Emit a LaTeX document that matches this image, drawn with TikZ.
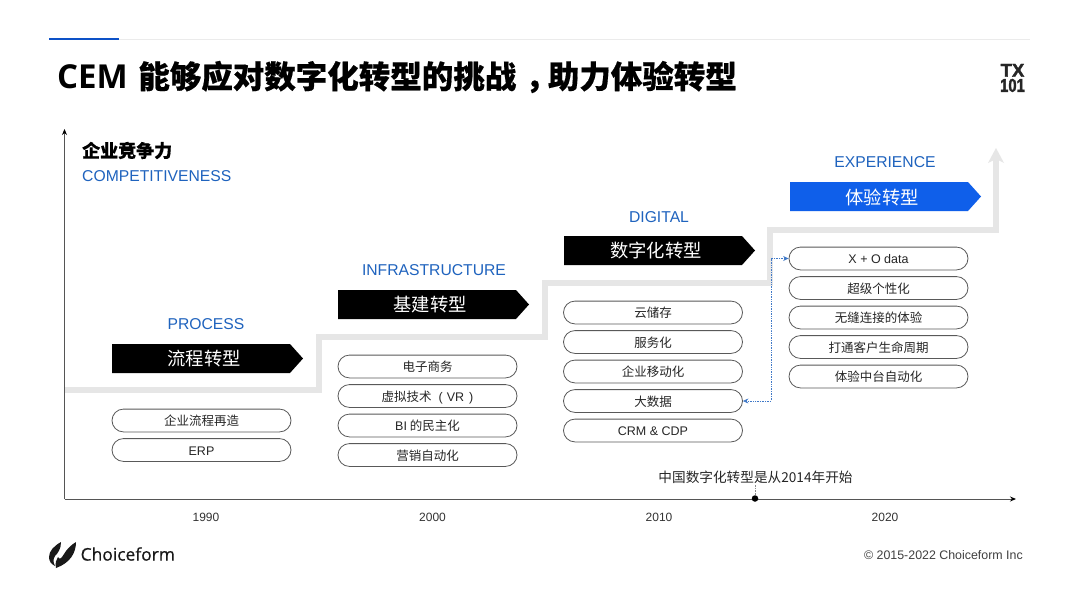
\documentclass[tikz,border=0pt]{standalone}
\usepackage{fontspec}
\setmainfont{Liberation Sans}
\newfontfamily\cjk[BoldFeatures={FakeBold=0.5}]{Noto Sans CJK SC}
\newfontfamily\opensans[FakeBold=0.5]{Open Sans}
\newfontfamily\opensanshead{Open Sans}
\newfontfamily\heavyA[FakeBold=2]{Liberation Sans Bold}
\usetikzlibrary{arrows.meta}
\definecolor{cfblue}{HTML}{0F5FEA}
\definecolor{lblblue}{HTML}{1F63BE}
\definecolor{stair}{HTML}{E6E6E6}
\definecolor{axisgray}{HTML}{555555}
\newcommand{\fs}[1]{\fontsize{#1}{#1}\selectfont}
\tikzset{
  x=1pt,y=-1pt,
  pill/.style={draw=black!65,line width=.8pt,rounded corners=11.4pt,minimum width=179pt,minimum height=22.8pt,inner sep=0pt,font=\fs{12.5}\cjk,text=black!85,fill=white,text height=11pt,text depth=0.1pt},
  pilllat/.style={pill,font=\fs{12.5}\rmfamily,text height=10pt,text depth=0pt},
  ban/.style={text=white,font=\fs{18.3}\cjk,inner sep=0pt},
  era/.style={text=lblblue,font=\fs{15.7}\rmfamily,inner sep=0pt},
  yearlbl/.style={text=black!80,font=\fs{12}\rmfamily,inner sep=0pt},
  axisline/.style={draw=axisgray,line width=.9pt,-{Stealth[length=6pt,width=5pt,color=black]}},
  stairline/.style={draw=stair,line width=6pt,line join=miter},
  linkline/.style={draw=lblblue!85,line width=.7pt,densely dotted},
}
\newcommand{\banner}[5]{%
  \fill[#4] (#2,#3) -- ++(178,0) -- ++(13,14.5) -- ++(-13,14.5) -- ++(-178,0) -- cycle;
  \path (#2,#3) ++(92,15) node[ban] (#1) {#5};}
\begin{document}
\begin{tikzpicture}
\useasboundingbox[fill=white] (0,0) rectangle (1080,608);
% header rules
\draw[black!8,line width=.7pt] (49,39) -- (1030,39);
\draw[cfblue!85!black,line width=2pt] (49,39) -- (119,39);
\node[anchor=west,inner sep=0pt,font=\fs{31.5}\cjk\bfseries] (title) at (57,77) {{\opensanshead\bfseries\fs{33}CEM}\hspace{10.5pt}能够应对数字化转型的挑战\kern9pt，\kern-9pt助力体验转型};
% TX 101 mark
\node[inner sep=0pt,align=center,text=black!85,font=\fs{18.5}\heavyA] (tx) at (1012.5,78) {\fs{18.5}TX\\[-3.4pt]\scalebox{.8}[1]{\fs{18.5}101}};
% stair
\coordinate (s0) at (64,390);
\coordinate (s1) at (319,390);
\coordinate (s2) at (319,337);
\coordinate (s3) at (545,337);
\coordinate (s4) at (545,283);
\coordinate (s5) at (770,283);
\coordinate (s6) at (770,230);
\coordinate (s7) at (996,230);
\coordinate (s8) at (996,158);
\coordinate (s9) at (996,148);
\draw[stairline] (s0) -- (s1) -- (s2) -- (s3) -- (s4) -- (s5) -- (s6) -- (s7) -- (s8);
\fill[stair] (s9) -- (1004,163) -- (996,159) -- (988,163) -- cycle;
% axes
\coordinate (o) at (64.5,499);
\coordinate (ytop) at (64.5,129);
\coordinate (xend) at (1016,499);
\draw[axisline] (o) -- (ytop);
\draw[axisline] (o) -- (xend);
\node[anchor=west,inner sep=0pt,font=\fs{18}\cjk\bfseries] (ylab) at (82,150.5) {企业竞争力};
\node[anchor=west,era] (yen) at (82,176) {COMPETITIVENESS};
% banners
\banner{b1}{112}{344}{black}{流程转型}
\banner{b2}{338}{290}{black}{基建转型}
\banner{b3}{564}{236}{black}{数字化转型}
\banner{b4}{790}{182}{cfblue}{体验转型}
\node[era] (e1) at (206,324) {PROCESS};
\node[era] (e2) at (434,270) {INFRASTRUCTURE};
\node[era] (e3) at (659,217) {DIGITAL};
\node[era] (e4) at (885,162.5) {EXPERIENCE};
% pills
\node[pill] (p11) at (201.5,420.5) {企业流程再造};
\node[pilllat] (p12) at (201.5,450) {ERP};
\node[pill] (p21) at (427.5,366.5) {电子商务};
\node[pill] (p22) at (427.5,396) {虚拟技术{\rmfamily\hspace{7pt}(\hspace{4pt}VR\hspace{5pt})\hspace{3pt}}};
\node[pill] (p23) at (427.5,425.5) {{\rmfamily BI} 的民主化};
\node[pill] (p24) at (427.5,455) {营销自动化};
\node[pill] (p31) at (653,312.5) {云储存};
\node[pill] (p32) at (653,342) {服务化};
\node[pill] (p33) at (653,371.5) {企业移动化};
\node[pill] (p34) at (653,401) {大数据};
\node[pilllat] (p35) at (653,430.5) {CRM \& CDP};
\node[pilllat] (p41) at (878.5,258.5) {X + O data};
\node[pill] (p42) at (878.5,288) {超级个性化};
\node[pill] (p43) at (878.5,317.5) {无缝连接的体验};
\node[pill] (p44) at (878.5,347) {打通客户生命周期};
\node[pill] (p45) at (878.5,376.5) {体验中台自动化};
% dotted link
\draw[linkline,{Stealth[length=5.5pt,width=5pt]}-{Stealth[length=5.5pt,width=5pt]}] (p34.east) -| (771,330) |- (p41.west);
% milestone
\node[inner sep=0pt,font=\fs{13.65}\cjk,text=black!85] (note) at (755.5,477.5) {中国数字化转型是从2014年开始};
\node[circle,fill=black,inner sep=0pt,minimum size=6.5pt] (dot) at (755,498.5) {};
\draw[black!45,line width=.6pt,densely dotted] (dot) -- (note.south -| dot);
% years
\node[yearlbl] (y1) at (206,517) {1990};
\node[yearlbl] (y2) at (432.5,517) {2000};
\node[yearlbl] (y3) at (659,517) {2010};
\node[yearlbl] (y4) at (885,517) {2020};
% logo
\fill[black!90] (49,557) .. controls (49,551) and (54,546) .. (61,542) .. controls (61,549) and (58,553) .. (55,556) .. controls (53,559) and (53,562) .. (55,566) .. controls (51,564) and (49,561) .. (49,557) -- cycle;
\fill[black!90] (76,542) .. controls (76,553) and (70,563) .. (56,568) .. controls (55,563) and (56,560) .. (58,557) .. controls (60,561) and (62,557) .. (64,554) .. controls (67,549) and (71,545) .. (76,542) -- cycle;
\node[anchor=west,inner sep=0pt,font=\fs{17.4}\opensans,text=black!90] (brand) at (80.5,554) {Choiceform};
\node[anchor=east,inner sep=0pt,font=\fs{12.4}\rmfamily,text=black!75] (copy) at (1023,555) {© 2015-2022 Choiceform Inc};
\end{tikzpicture}
\end{document}
